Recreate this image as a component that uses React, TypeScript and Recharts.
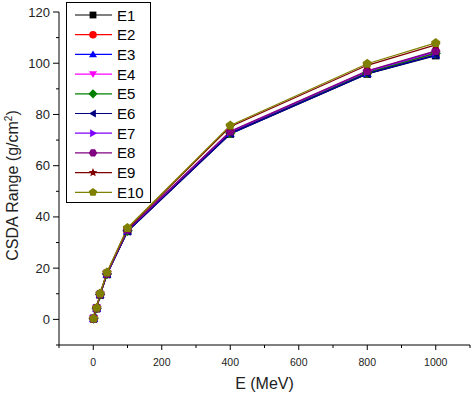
import { LineChart, Line, XAxis, YAxis } from 'recharts';

const energies = [1, 10, 20, 40, 100, 400, 800, 1000];

const E1 = [0.3, 4.3, 9.6, 17.6, 34.4, 72.4, 95.8, 103.0];
const E2 = [0.3, 4.3, 9.7, 17.7, 34.6, 72.8, 96.2, 103.8];
const E3 = [0.3, 4.3, 9.6, 17.6, 34.4, 72.5, 95.9, 103.2];
const E4 = [0.3, 4.4, 9.7, 17.8, 34.7, 73.0, 96.5, 104.2];
const E5 = [0.3, 4.3, 9.7, 17.7, 34.6, 72.8, 96.3, 103.9];
const E6 = [0.3, 4.3, 9.6, 17.6, 34.4, 72.6, 95.9, 103.3];
const E7 = [0.3, 4.4, 9.8, 17.9, 34.9, 73.2, 96.8, 104.5];
const E8 = [0.3, 4.4, 9.8, 17.9, 35.0, 73.4, 97.0, 104.8];
const E9 = [0.3, 4.5, 10.0, 18.2, 35.5, 75.2, 99.2, 107.2];
const E10 = [0.3, 4.5, 10.1, 18.3, 35.7, 75.7, 99.8, 107.9];

const xTicks = [-100, 0, 100, 200, 300, 400, 500, 600, 700, 800, 900, 1000, 1100];
const yTicks = [-10, 0, 10, 20, 30, 40, 50, 60, 70, 80, 90, 100, 110, 120];

const seriesList = [
  { key: 'E1', values: E1, color: '#000000', shape: 'square' },
  { key: 'E2', values: E2, color: '#ff0000', shape: 'circle' },
  { key: 'E3', values: E3, color: '#0000ff', shape: 'up' },
  { key: 'E4', values: E4, color: '#ff00ff', shape: 'down' },
  { key: 'E5', values: E5, color: '#008000', shape: 'diamond' },
  { key: 'E6', values: E6, color: '#000080', shape: 'left' },
  { key: 'E7', values: E7, color: '#8000ff', shape: 'right' },
  { key: 'E8', values: E8, color: '#800080', shape: 'hexagon' },
  { key: 'E9', values: E9, color: '#800000', shape: 'star' },
  { key: 'E10', values: E10, color: '#808000', shape: 'pentagon' },
];

const data = energies.map((e, i) => {
  const row: Record<string, number> = { e };
  seriesList.forEach((s) => {
    row[s.key] = s.values[i];
  });
  return row;
});

const FONT = '"Liberation Sans", Arial, sans-serif';

const polygon = (cx: number, cy: number, r: number, n: number, rot: number) => {
  const pts: string[] = [];
  for (let i = 0; i < n; i++) {
    const a = rot + (i * 2 * Math.PI) / n;
    pts.push(`${cx + r * Math.cos(a)},${cy + r * Math.sin(a)}`);
  }
  return pts.join(' ');
};

const star = (cx: number, cy: number, r: number) => {
  const pts: string[] = [];
  for (let i = 0; i < 10; i++) {
    const rr = i % 2 === 0 ? r : r * 0.45;
    const a = -Math.PI / 2 + (i * Math.PI) / 5;
    pts.push(`${cx + rr * Math.cos(a)},${cy + rr * Math.sin(a)}`);
  }
  return pts.join(' ');
};

const Marker = ({ cx, cy, shape, color, r = 4.5 }: { cx: number; cy: number; shape: string; color: string; r?: number }) => {
  switch (shape) {
    case 'square':
      return <rect x={cx - r * 0.85} y={cy - r * 0.85} width={r * 1.7} height={r * 1.7} fill={color} />;
    case 'circle':
      return <circle cx={cx} cy={cy} r={r * 0.95} fill={color} />;
    case 'up':
      return <polygon points={polygon(cx, cy + r * 0.15, r * 1.15, 3, -Math.PI / 2)} fill={color} />;
    case 'down':
      return <polygon points={polygon(cx, cy - r * 0.15, r * 1.15, 3, Math.PI / 2)} fill={color} />;
    case 'diamond':
      return <polygon points={polygon(cx, cy, r * 1.15, 4, 0)} fill={color} />;
    case 'left':
      return <polygon points={polygon(cx + r * 0.15, cy, r * 1.15, 3, Math.PI)} fill={color} />;
    case 'right':
      return <polygon points={polygon(cx - r * 0.15, cy, r * 1.15, 3, 0)} fill={color} />;
    case 'hexagon':
      return <polygon points={polygon(cx, cy, r * 1.05, 6, 0)} fill={color} />;
    case 'star':
      return <polygon points={star(cx, cy, r * 1.15)} fill={color} />;
    default:
      return <polygon points={polygon(cx, cy, r * 1.1, 5, -Math.PI / 2)} fill={color} />;
  }
};

const XTick = (props: any) => {
  const { x, y, payload } = props;
  const v = payload.value;
  const major = v % 200 === 0;
  return (
    <g>
      <line x1={x} x2={x} y1={y} y2={y + (major ? 5 : 3)} stroke="#000" strokeWidth={1} />
      {major && (
        <text x={x} y={y + 21} textAnchor="middle" fontSize={10.5} fontFamily={FONT} fill="#222">
          {v}
        </text>
      )}
    </g>
  );
};

const YTick = (props: any) => {
  const { x, y, payload } = props;
  const v = payload.value;
  const major = v % 20 === 0;
  return (
    <g>
      <line x1={x} x2={x - (major ? 6 : 3)} y1={y} y2={y} stroke="#000" strokeWidth={1} />
      {major && (
        <text x={x - 9} y={y + 4.5} textAnchor="end" fontSize={13} fontFamily={FONT} fill="#222">
          {v}
        </text>
      )}
    </g>
  );
};

const LegendBox = () => (
  <svg width={86} height={202} style={{ display: 'block' }}>
    <rect x={0.5} y={0.5} width={84} height={200} fill="#fff" stroke="#000" strokeWidth={1} />
    {seriesList.map((s, i) => {
      const cy = 13 + i * 19.7;
      return (
        <g key={s.key}>
          <line x1={9} x2={46} y1={cy} y2={cy} stroke={s.color} strokeWidth={1.2} />
          <Marker cx={27} cy={cy} shape={s.shape} color={s.color} r={4} />
          <text x={51} y={cy + 5.5} fontSize={15} fontFamily={FONT} fill="#000">
            {s.key}
          </text>
        </g>
      );
    })}
  </svg>
);

export default function App() {
  return (
    <div style={{ position: 'absolute', left: 0, top: 0, width: 474, height: 395, background: '#fff' }}>
      <LineChart width={474} height={395} data={data} margin={{ top: 12, right: 4, left: 0, bottom: 0 }}>
        <XAxis
          dataKey="e"
          type="number"
          domain={[-100, 1100]}
          ticks={xTicks}
          interval={0}
          tickSize={0}
          tickMargin={0}
          tick={<XTick />}
          axisLine={{ stroke: '#000' }}
          height={50}
          label={{ value: 'E (MeV)', position: 'insideBottom', offset: 6, fontSize: 16, fontFamily: FONT, fill: '#222' }}
        />
        <YAxis
          type="number"
          domain={[-10, 120]}
          ticks={yTicks}
          interval={0}
          tickSize={0}
          tickMargin={0}
          tick={<YTick />}
          axisLine={{ stroke: '#000' }}
          width={59}
          label={(props: any) => {
            const vb = props.viewBox || {};
            const cy = (vb.y ?? 12) + (vb.height ?? 333) / 2 + 7;
            return (
              <text
                x={18}
                y={cy}
                transform={`rotate(-90 18 ${cy})`}
                textAnchor="middle"
                fontSize={16}
                fontFamily={FONT}
                fill="#222"
              >
                CSDA Range (g/cm<tspan dy={-6} fontSize={10}>2</tspan>
                <tspan dy={6}>)</tspan>
              </text>
            );
          }}
        />
        {seriesList.map((s) => (
          <Line
            key={s.key}
            dataKey={s.key}
            stroke={s.color}
            strokeWidth={1.3}
            isAnimationActive={false}
            dot={(p: any) => <Marker key={`${s.key}-${p.index}`} cx={p.cx} cy={p.cy} shape={s.shape} color={s.color} />}
            activeDot={false}
          />
        ))}
      </LineChart>
      <div style={{ position: 'absolute', left: 66, top: 2 }}>
        <LegendBox />
      </div>
    </div>
  );
}
